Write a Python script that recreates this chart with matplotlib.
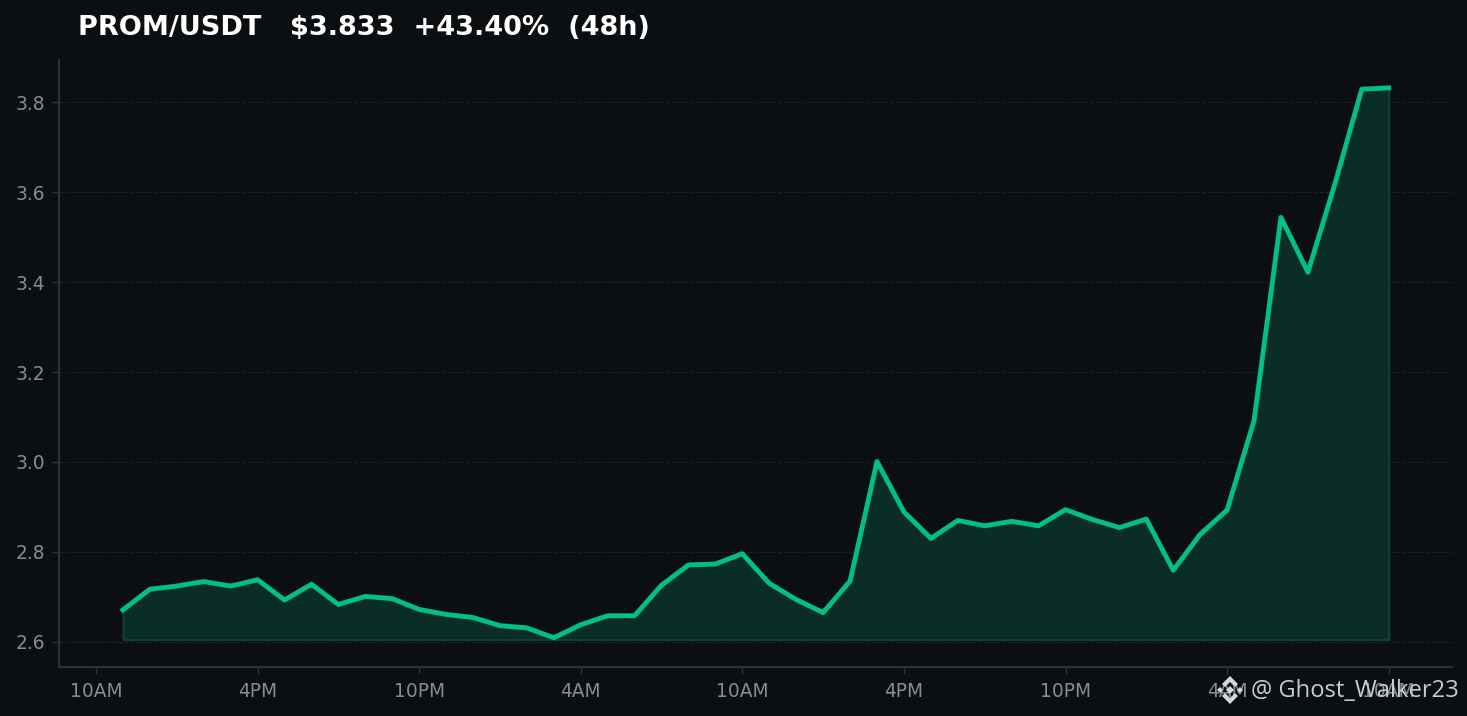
import matplotlib
matplotlib.use("Agg")
import matplotlib.pyplot as plt
from matplotlib.patches import Polygon

bg = "#0b0f12"
green = "#00c087"
tick_col = "#868c93"
spine_col = "#2b3238"

hours = list(range(1, 49))
prices = [2.671, 2.717, 2.724, 2.734, 2.724, 2.738, 2.693, 2.728, 2.683, 2.701,
          2.696, 2.672, 2.661, 2.654, 2.636, 2.631, 2.609, 2.638, 2.658, 2.658,
          2.726, 2.771, 2.773, 2.796, 2.730, 2.694, 2.665, 2.735, 3.001, 2.889,
          2.830, 2.870, 2.858, 2.868, 2.858, 2.894, 2.872, 2.854, 2.873, 2.759,
          2.839, 2.893, 3.092, 3.544, 3.422, 3.618, 3.829, 3.832]
x_ticks = [0, 6, 12, 18, 24, 30, 36, 42, 48]
x_labels = ["10AM", "4PM", "10PM", "4AM", "10AM", "4PM", "10PM", "4AM", "10AM"]
y_ticks = [2.6, 2.8, 3.0, 3.2, 3.4, 3.6, 3.8]
base_price = 2.605

W, H = 1467, 716
fig = plt.figure(figsize=(W / 100, H / 100), dpi=100, facecolor=bg)
ax = fig.add_axes([59 / W, 1 - 667 / H, (1452 - 59) / W, (667 - 60) / H], facecolor=bg)

ax.fill_between(hours, prices, base_price, facecolor="#0a2e27", edgecolor="#0d4337", linewidth=1.5, zorder=2)
ax.plot(hours, prices, color=green, linewidth=3.5, solid_joinstyle="round", zorder=3)

ax.set_xlim(-1.374, 50.35)
ax.set_ylim(2.544, 3.894)
ax.set_xticks(x_ticks)
ax.set_xticklabels(x_labels)
ax.set_yticks(y_ticks)
ax.set_yticklabels(["%.1f" % v for v in y_ticks])
ax.tick_params(axis="both", colors=spine_col, labelcolor=tick_col, labelsize=13.4, length=5, width=1)
ax.tick_params(axis="x", pad=6)
ax.tick_params(axis="y", pad=5)
ax.grid(axis="y", color="#1c2126", linestyle="--", linewidth=0.8, zorder=1)
for side in ["top", "right"]:
    ax.spines[side].set_visible(False)
for side in ["left", "bottom"]:
    ax.spines[side].set_color(spine_col)
    ax.spines[side].set_linewidth(1.5)

fig.text(78 / W, 1 - 28 / H, "PROM/USDT   $3.833  +43.40%  (48h)", color="white",
         fontsize=19.5, fontweight="bold", va="center", ha="left")

# watermark on top of the last tick labels
logo_col = "#d5d8da"
cx, cy = 1230, 690
shapes = [
    [(0, -14), (8, -6), (5, -3), (0, -8), (-5, -3), (-8, -6)],
    [(0, 14), (8, 6), (5, 3), (0, 8), (-5, 3), (-8, 6)],
    [(-13, 0), (-10, -3), (-7, 0), (-10, 3)],
    [(13, 0), (10, -3), (7, 0), (10, 3)],
    [(0, -4), (4, 0), (0, 4), (-4, 0)],
]
for s in shapes:
    pts = [((cx + a) / W, 1 - (cy + b) / H) for a, b in s]
    fig.add_artist(Polygon(pts, closed=True, transform=fig.transFigure, facecolor=logo_col, edgecolor="none", zorder=10))
fig.text(1459 / W, 1 - 691 / H, "@ Ghost_Walker23", color="#c9cccf", family="Open Sans",
         fontsize=17.1, va="center", ha="right", zorder=10)

fig.savefig("out.png", dpi=100, facecolor=bg)
